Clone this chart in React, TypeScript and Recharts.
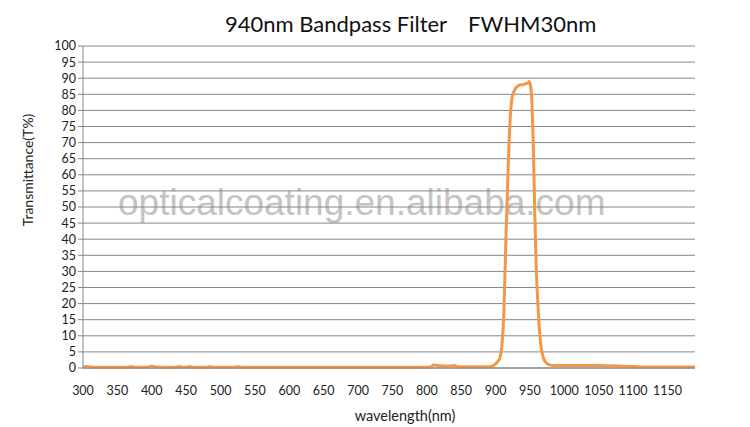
import React from "react";
import { LineChart, Line, XAxis, YAxis, CartesianGrid } from "recharts";

// wavelength (nm) and transmittance (%)
const wavelengths = [
  300, 305, 310, 320, 340, 365, 370, 375, 395, 400, 405, 435, 440, 445, 450, 455,
  460, 480, 485, 490, 520, 525, 530, 560, 600, 650, 700, 750, 790, 805, 810, 820,
  830, 835, 840, 845, 860, 880, 890, 895, 900, 903, 906, 909, 912, 915, 918, 920,
  922, 924, 926, 928, 932, 936, 940, 944, 947, 949, 951, 953, 955, 957, 959, 961,
  963, 966, 969, 972, 976, 980, 985, 990, 1000, 1020, 1040, 1060, 1080, 1100, 1120,
  1150, 1190,
];

const transmittance = [
  0.3, 0.5, 0.3, 0.2, 0.2, 0.2, 0.5, 0.2, 0.3, 0.6, 0.3, 0.2, 0.5, 0.2, 0.2, 0.5,
  0.2, 0.2, 0.5, 0.2, 0.2, 0.5, 0.2, 0.2, 0.2, 0.2, 0.2, 0.2, 0.2, 0.3, 0.9, 0.7,
  0.6, 0.6, 0.8, 0.4, 0.4, 0.4, 0.4, 0.6, 1.3, 2, 3, 6.5, 17, 40, 60, 72,
  80, 84, 85.5, 86.5, 87.5, 88, 88, 88.3, 88.5, 89, 87.5, 82, 68, 48, 32, 22,
  14, 7, 3.5, 2, 1.2, 0.9, 0.8, 0.8, 0.8, 0.8, 0.8, 0.7, 0.6, 0.5, 0.3,
  0.3, 0.3,
];

const xTicks = [
  300, 350, 400, 450, 500, 550, 600, 650, 700, 750, 800, 850, 900, 950, 1000, 1050,
  1100, 1150,
];
const yTicks = [0, 5, 10, 15, 20, 25, 30, 35, 40, 45, 50, 55, 60, 65, 70, 75, 80, 85, 90, 95, 100];

const data = wavelengths.map((nm, i) => ({ nm, t: transmittance[i] }));

const FONT = "Lato, 'Noto Sans', sans-serif";

export default function App() {
  return (
    <div style={{ position: "absolute", left: 0, top: 0, width: 750, height: 427, background: "#fff" }}>
      {/* watermark sits behind the grid */}
      <svg width={750} height={427} style={{ position: "absolute", left: 0, top: 0 }}>
        <text
          x={118}
          y={215}
          fontFamily="'Liberation Sans', Arial, sans-serif"
          fontSize={37}
          fill="#c4c4c4"
        >
          opticalcoating.en.alibaba.com
        </text>
      </svg>

      <LineChart
        width={750}
        height={427}
        data={data}
        margin={{ top: 46, right: 55, bottom: 0, left: 0 }}
      >
        <CartesianGrid vertical={false} stroke="#868686" strokeWidth={1} />
        <XAxis
          dataKey="nm"
          type="number"
          domain={[300, 1190]}
          ticks={xTicks}
          interval={0}
          height={59}
          tickLine={false}
          tickSize={0}
          tickMargin={18}
          axisLine={{ stroke: "#868686" }}
          tick={{ fill: "#222", fontSize: 12.5, fontFamily: FONT }}
        />
        <YAxis
          type="number"
          domain={[0, 100]}
          ticks={yTicks}
          interval={0}
          width={83}
          tickSize={5}
          tickMargin={2}
          axisLine={{ stroke: "#868686" }}
          tickLine={{ stroke: "#868686" }}
          tick={{ fill: "#222", fontSize: 12.5, fontFamily: FONT }}
        />
        <Line
          type="monotone"
          dataKey="t"
          stroke="#F79646"
          strokeWidth={3}
          dot={false}
          isAnimationActive={false}
        />
      </LineChart>

      {/* title and axis titles */}
      <svg
        width={750}
        height={427}
        style={{ position: "absolute", left: 0, top: 0, pointerEvents: "none" }}
      >
        <text x={225} y={32} fontFamily={FONT} fontSize={22} fill="#111">
          940nm Bandpass Filter
        </text>
        <text x={468} y={32} fontFamily={FONT} fontSize={22} fill="#111">
          FWHM30nm
        </text>
        <text
          x={405}
          y={421}
          textAnchor="middle"
          fontFamily={FONT}
          fontSize={14.5}
          fill="#222"
        >
          wavelength(nm)
        </text>
        <text
          x={33}
          y={170}
          textAnchor="middle"
          transform="rotate(-90 33 170)"
          fontFamily={FONT}
          fontSize={14}
          fill="#222"
        >
          Transmittance(T%)
        </text>
      </svg>
    </div>
  );
}
